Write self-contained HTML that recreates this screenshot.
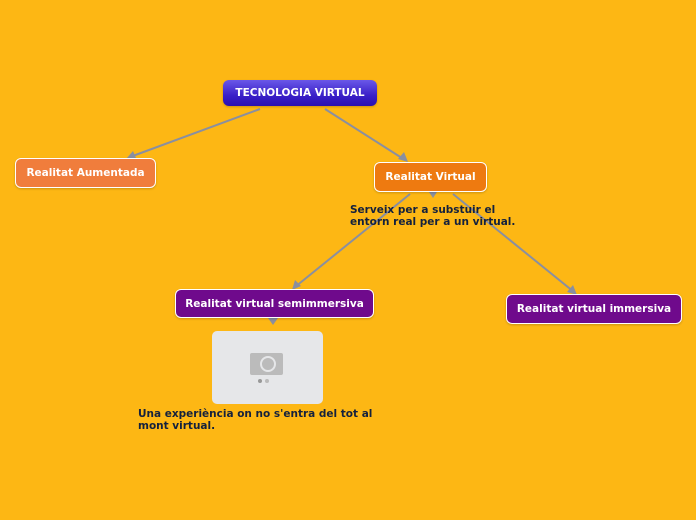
<!DOCTYPE html>
<html><head><style>
body{margin:0;width:696px;height:520px;background:#fdb714;position:relative;overflow:hidden;font-family:"DejaVu Sans","Liberation Sans",sans-serif;}
.n{position:absolute;box-sizing:border-box;color:#fff;font-weight:bold;font-size:10.5px;display:flex;align-items:center;justify-content:center;border-radius:6px;box-shadow:0 1px 2px rgba(0,0,0,0.2);}
.t{position:absolute;color:#14213d;font-weight:bold;font-size:10.5px;line-height:12px;}
</style></head><body>
<svg width="696" height="520" style="position:absolute;left:0;top:0">
<g stroke="#8a8fa0" stroke-width="2" fill="none">
<line x1="260" y1="109" x2="130" y2="157"/>
<line x1="325" y1="109" x2="405" y2="160"/>
<line x1="410" y1="194" x2="295" y2="287"/>
<line x1="453" y1="194" x2="574" y2="292"/>
</g>
<g fill="#8a8fa0">
<polygon points="126,159 133,151 136,158"/>
<polygon points="408,162 398,159 404,152"/>
<polygon points="292,290 295,280 301,286"/>
<polygon points="577,295 567,292 573,285"/>
<polygon points="429,192 437,192 433,198"/>
<polygon points="268,318 278,318 273,325"/>
</g>
</svg>
<div class="n" style="left:223px;top:80px;width:154px;height:26px;background:linear-gradient(#6a58e8,#3a1fc8 60%,#2a10b0);">TECNOLOGIA VIRTUAL</div>
<div class="n" style="left:15px;top:158px;width:141px;height:30px;background:#f07d3c;border:1.5px solid #fff;">Realitat Aumentada</div>
<div class="n" style="left:374px;top:162px;width:113px;height:30px;background:#ee7a10;border:1.5px solid #fff;">Realitat Virtual</div>
<div class="t" style="left:350px;top:204px;">Serveix per a substuir el<br>entorn real per a un virtual.</div>
<div class="n" style="left:175px;top:289px;width:199px;height:29px;background:#6f0a8c;border:1.5px solid #fff;">Realitat virtual semimmersiva</div>
<div class="n" style="left:506px;top:294px;width:176px;height:30px;background:#6f0a8c;border:1.5px solid #fff;">Realitat virtual immersiva</div>
<div style="position:absolute;left:212px;top:331px;width:111px;height:73px;background:#e6e7e9;border-radius:5px;">
<div style="position:absolute;left:38px;top:22px;width:33px;height:22px;background:#bbb;border-radius:2px;"></div>
<div style="position:absolute;left:48px;top:25px;width:12px;height:12px;border:2px solid #e6e7e9;border-radius:50%;"></div>
<div style="position:absolute;left:46px;top:48px;width:4px;height:4px;background:#999;border-radius:50%;"></div>
<div style="position:absolute;left:53px;top:48px;width:4px;height:4px;background:#bbb;border-radius:50%;"></div>
</div>
<div class="t" style="left:138px;top:408px;">Una experiència on no s'entra del tot al<br>mont virtual.</div>
</body></html>
